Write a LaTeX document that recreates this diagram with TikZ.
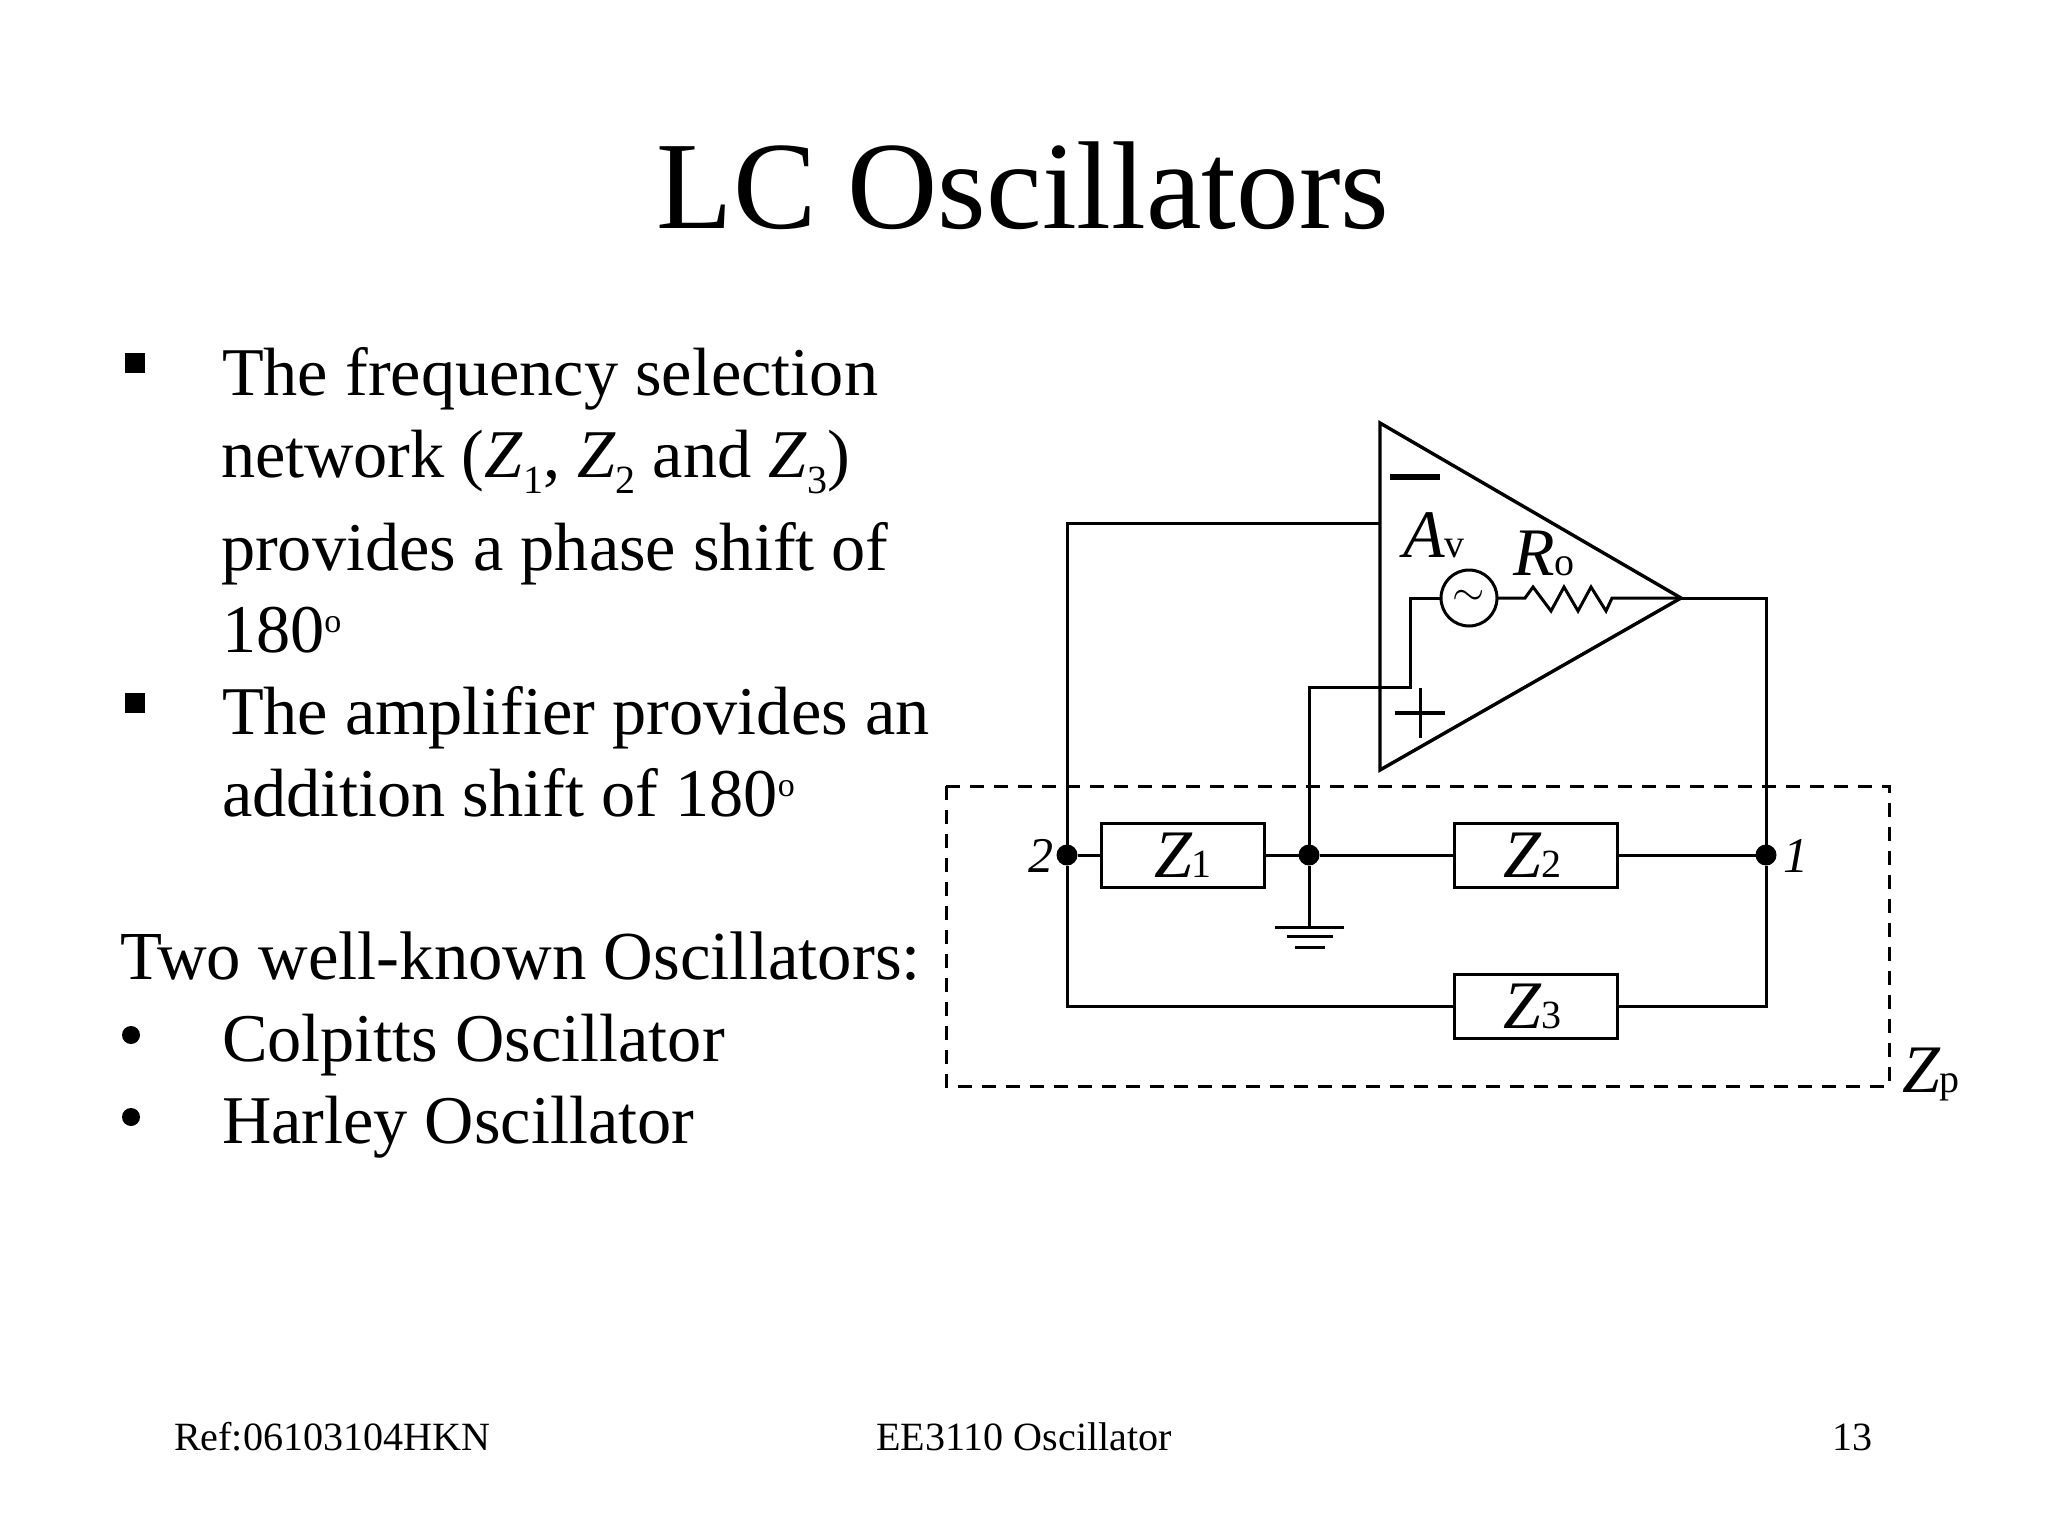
\documentclass[tikz,border=0pt]{standalone}
\usepackage{fontspec}
\setmainfont{Liberation Serif}
\usetikzlibrary{shapes,shapes.misc}
\newcommand{\lowdigit}[1]{\raisebox{-8pt}{\fontsize{20}{20}\selectfont #1}}
\newcommand{\dego}{\raisebox{10pt}{\fontsize{17}{17}\selectfont o}}
\newcommand{\smalltxt}[1]{{\fontsize{20}{20}\selectfont\upshape #1}}

\begin{document}
\begin{tikzpicture}[x=0.5pt, y=-0.5pt, line width=1.5pt,
        every node/.append style={inner sep=0pt, outer sep=0pt}]
      \tikzstyle{title} = [anchor=base, font=\fontsize{62.5}{62.5}\selectfont]
      \tikzstyle{word} = [anchor=base west, font=\fontsize{34.15}{34.15}\selectfont]
      \tikzstyle{foot} = [font=\fontsize{20.05}{20.05}\selectfont]
      \tikzstyle{mathword} = [anchor=base west, font=\fontsize{34}{34}\selectfont\itshape]
      \tikzstyle{pin} = [anchor=base west, font=\fontsize{25}{25}\selectfont\itshape]
      \tikzstyle{zbox} = [draw, minimum width=81.5pt, minimum height=32pt, font=\fontsize{34}{34}\selectfont\itshape]
      \tikzstyle{dot} = [circle, fill=black, minimum size=10.5pt]
      \tikzstyle{sqbullet} = [fill=black, minimum size=10pt]
      \tikzstyle{rdbullet} = [circle, fill=black, minimum size=9pt]
      \useasboundingbox (0,0) rectangle (2048,1536);
      \fill[white] (0,0) rectangle (2048,1536);

      % slide text
      \node (TITLE) [title] at (1023,228) {LC Oscillators};
      \node (SQA) [sqbullet] at (135,363) {};
      \node (SQB) [sqbullet] at (135,703) {};
      \node (LineA) [word] at (222,395) {The frequency selection};
      \node (LineB) [word] at (221,477) {network (\textit{Z}\lowdigit{1}, \textit{Z}\lowdigit{2} and \textit{Z}\lowdigit{3})};
      \node (LineC) [word] at (221,570) {provides a phase shift of};
      \node (LineD) [word] at (222,652) {180\dego};
      \node (LineE) [word] at (222,734) {The amplifier provides an};
      \node (LineF) [word] at (222,816) {addition shift of 180\dego};
      \node (TWO) [word, font=\fontsize{34.37}{34.37}\selectfont] at (120,979) {Two well-known Oscillators:};
      \node (RDA) [rdbullet] at (131,1035) {};
      \node (RDB) [rdbullet] at (131,1117) {};
      \node (COLP) [word] at (222,1061) {Colpitts Oscillator};
      \node (HARL) [word] at (222,1143) {Harley Oscillator};
      \node (REF) [foot, anchor=base west] at (174,1450) {Ref:06103104HKN};
      \node (COURSE) [foot, anchor=base] at (1024,1450) {EE3110 Oscillator};
      \node (PAGE) [foot, anchor=base east] at (1873,1450) {13};

      % network
      \node (N2) [dot] at (1067,855) {};
      \node (MID) [dot] at (1309,855) {};
      \node (N1) [dot] at (1766,855) {};
      \node (Z1) [zbox] at (1183,855) {Z\smalltxt{1}};
      \node (Z2) [zbox] at (1535.5,855) {\hspace*{-3pt}Z\smalltxt{2}};
      \node (Z3) [zbox] at (1535.5,1006) {\hspace*{-3pt}Z\smalltxt{3}};
      \node (PINB) [pin] at (1028,872) {2};
      \node (PINA) [pin] at (1783,872) {1};
      \node (ZP) [mathword] at (1902,1092) {Z\smalltxt{p}};
      \draw (N2) -- (Z1);
      \draw (Z1) -- (MID);
      \draw (MID) -- (Z2);
      \draw (Z2) -- (N1);
      \draw (N2) |- (Z3.west);
      \draw (N1) |- (Z3.east);
      \draw[dash pattern=on 7pt off 5pt] (946,786) rectangle (1889,1086);

      % ground
      \coordinate (GND) at (1309,927);
      \draw (MID) -- (GND);
      \draw (1275,927) -- (1344,927);
      \draw (1287,936) -- (1333,936);
      \draw (1295,947) -- (1325,947);

      % amplifier
      \coordinate (APEX) at (1681,598);
      \coordinate (INN) at (1380,523);
      \coordinate (BEND) at (1410,687);
      \draw[line width=1.7pt] (1380,423) -- (APEX) -- (1380,770) -- cycle;
      \draw[line width=3pt] (1390,477) -- (1440,477);
      \draw[line width=1.9pt] (1395,713) -- (1445,713);
      \draw (1420,688) -- (1420,738);
      \node (SRC) [circle, draw, minimum size=28pt, font=\fontsize{20}{20}\selectfont\bfseries] at (1469,598) {$\mathversion{bold}\sim$};
      \node (AV) [mathword] at (1403,557) {A\smalltxt{v}};
      \node (RO) [mathword] at (1513,575) {R\smalltxt{o}};
      \draw (N2) |- (INN);
      \draw (SRC) -| (BEND) -| (MID);
      \draw (SRC.east) -- ++(28,0) -- ++(8,-11) -- ++(18,24) -- ++(13,-24) -- ++(14,24) -- ++(13,-24) -- ++(15,24) -- ++(6,-13) -- (APEX);
      \draw (APEX) -| (N1);
    \end{tikzpicture}
\end{document}
